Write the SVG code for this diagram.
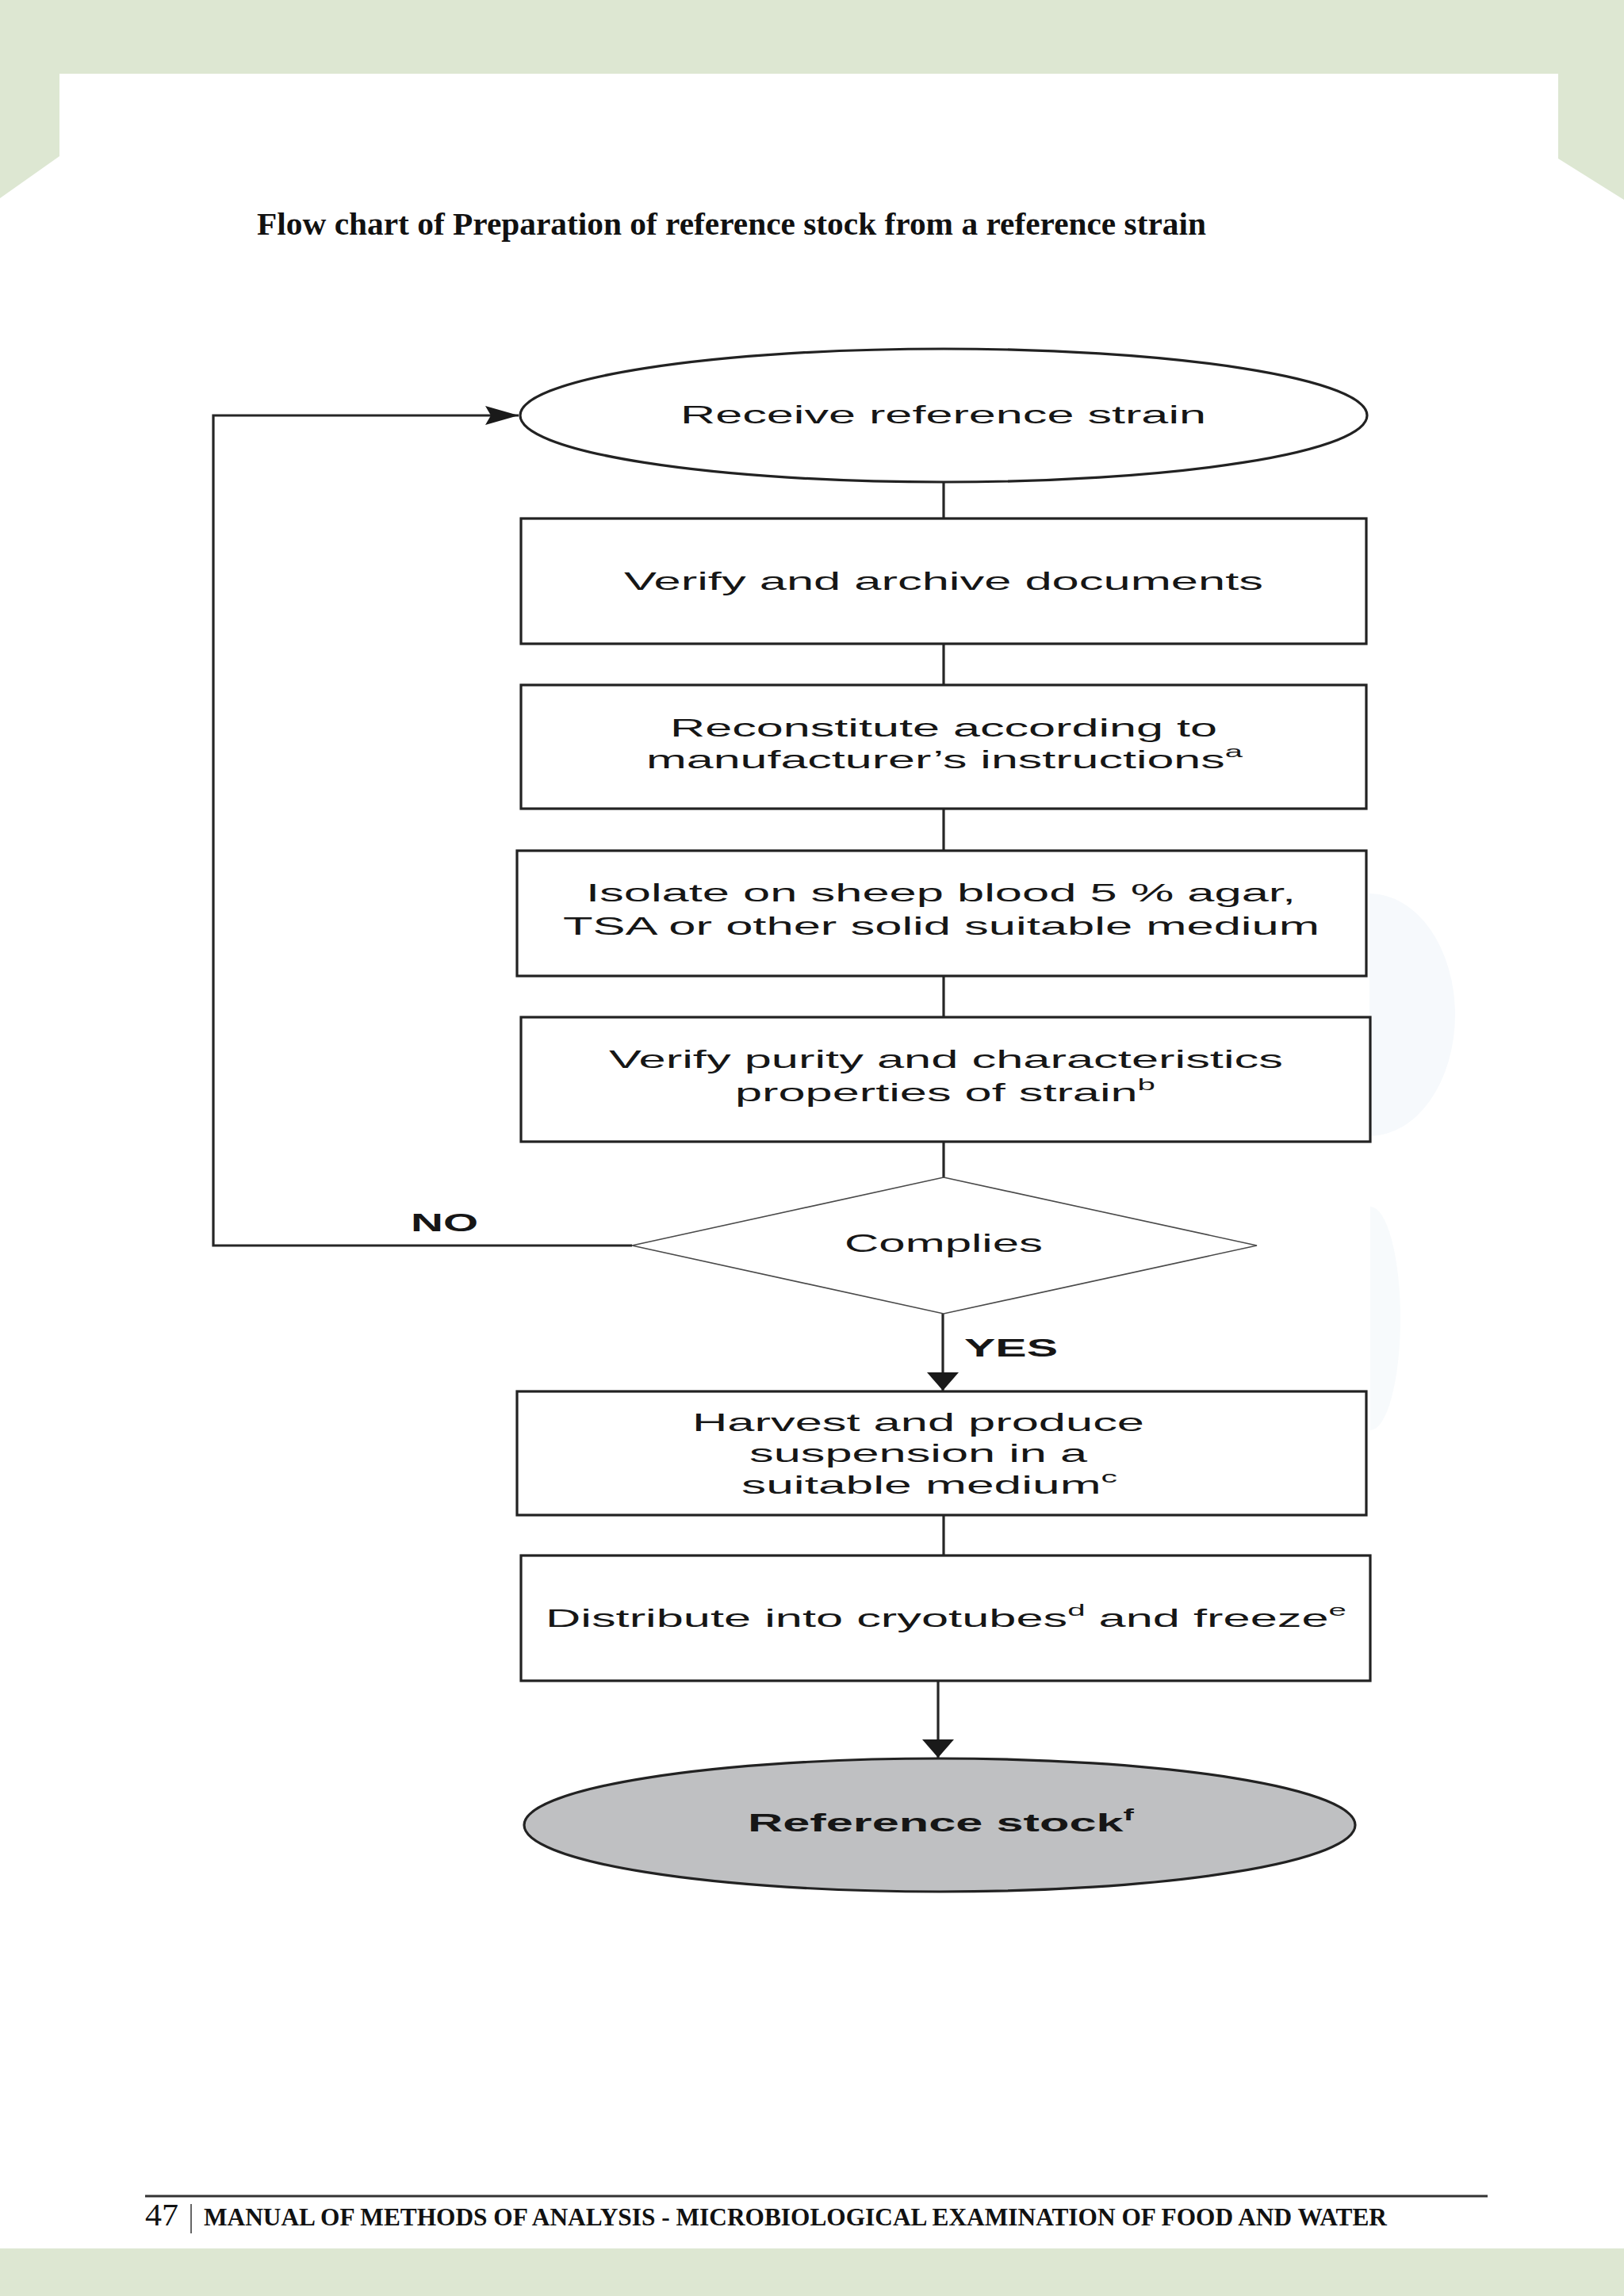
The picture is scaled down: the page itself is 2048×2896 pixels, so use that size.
<svg xmlns="http://www.w3.org/2000/svg" width="2048" height="2896" viewBox="0 0 2048 2896">
<style>
.bg{fill:#dde7d2}
.node rect,.node ellipse{stroke:#222;stroke-width:3.2}
.node rect{fill:#ffffff}
.diam{fill:#ffffff;stroke:#4a4a4a;stroke-width:1.6}
.conn{fill:none;stroke:#262626;stroke-width:3.2}
.t{font-family:"Liberation Sans",Arial,sans-serif;font-size:32px;fill:#161616}
.b{font-weight:bold}
.sup{font-size:21px}
.serif{font-family:"Liberation Serif","Times New Roman",serif;font-weight:bold;fill:#111}
</style>
<defs>
<marker id="arrR" markerUnits="userSpaceOnUse" viewBox="0 -12 42 24" markerWidth="42" markerHeight="24" refX="42" refY="0" orient="auto">
<path d="M0,-12 L42,0 L0,12 L7,0 Z" fill="#1a1a1a"/>
</marker>
<marker id="arrD" markerUnits="userSpaceOnUse" viewBox="0 -20 23 40" markerWidth="23" markerHeight="40" refX="23" refY="0" orient="auto">
<path d="M0,-20 L23,0 L0,20 Z" fill="#1a1a1a"/>
</marker>
</defs>
<rect width="2048" height="2896" fill="#ffffff"/>
<g id="page-frame">
<rect class="bg" x="0" y="0" width="2048" height="93"/>
<polygon class="bg" points="0,0 75,0 75,197 0,250"/>
<polygon class="bg" points="2048,0 1965,0 1965,200 2048,252"/>
<rect class="bg" x="0" y="2836" width="2048" height="60"/>
<path d="M1727,1127 A108,153 0 0 1 1727,1433 Z" fill="#f6f9fc"/>
<path d="M1728,1522 A38,141 0 0 1 1728,1804 Z" fill="#f7fafc"/>
</g>
<text class="serif" x="324" y="296" font-size="41" textLength="1197" lengthAdjust="spacingAndGlyphs">Flow chart of Preparation of reference stock from a reference strain</text>
<g id="connectors">
<path class="conn" d="M797,1571 H269 V524 H654" marker-end="url(#arrR)"/>
<line class="conn" x1="1190" y1="608" x2="1190" y2="654"/>
<line class="conn" x1="1190" y1="812" x2="1190" y2="864"/>
<line class="conn" x1="1190" y1="1020" x2="1190" y2="1073"/>
<line class="conn" x1="1190" y1="1231" x2="1190" y2="1283"/>
<line class="conn" x1="1190" y1="1440" x2="1190" y2="1485"/>
<line class="conn" x1="1189" y1="1657" x2="1189" y2="1754" marker-end="url(#arrD)"/>
<line class="conn" x1="1190" y1="1911" x2="1190" y2="1962"/>
<line class="conn" x1="1183" y1="2120" x2="1183" y2="2217" marker-end="url(#arrD)"/>
<text class="t b" x="518" y="1553" textLength="85" lengthAdjust="spacingAndGlyphs">NO</text>
<text class="t b" x="1216" y="1711" textLength="118" lengthAdjust="spacingAndGlyphs">YES</text>
</g>
<g id="n-receive" class="node">
<ellipse cx="1190" cy="524" rx="534" ry="84" fill="#ffffff"/>
<text class="t" x="858" y="534" textLength="663" lengthAdjust="spacingAndGlyphs">Receive reference strain</text>
</g>
<g id="n-verify-docs" class="node">
<rect x="657" y="654" width="1066" height="158"/>
<text class="t" x="787" y="744" textLength="806" lengthAdjust="spacingAndGlyphs">Verify and archive documents</text>
</g>
<g id="n-reconstitute" class="node">
<rect x="657" y="864" width="1066" height="156"/>
<text class="t" x="845" y="929" textLength="690" lengthAdjust="spacingAndGlyphs">Reconstitute according to</text>
<text class="t" x="815" y="969" textLength="752" lengthAdjust="spacingAndGlyphs">manufacturer’s instructions<tspan class="sup" dy="-14">a</tspan></text>
</g>
<g id="n-isolate" class="node">
<rect x="652" y="1073" width="1071" height="158"/>
<text class="t" x="739" y="1137" textLength="895" lengthAdjust="spacingAndGlyphs">Isolate on sheep blood 5 % agar,</text>
<text class="t" x="710" y="1179" textLength="954" lengthAdjust="spacingAndGlyphs">TSA or other solid suitable medium</text>
</g>
<g id="n-verify-purity" class="node">
<rect x="657" y="1283" width="1071" height="157"/>
<text class="t" x="768" y="1347" textLength="850" lengthAdjust="spacingAndGlyphs">Verify purity and characteristics</text>
<text class="t" x="927" y="1389" textLength="530" lengthAdjust="spacingAndGlyphs">properties of strain<tspan class="sup" dy="-14">b</tspan></text>
</g>
<g id="n-complies" class="node">
<polygon class="diam" points="1190,1485 1585,1571 1190,1657 797,1571"/>
<text class="t" x="1065" y="1579" textLength="250" lengthAdjust="spacingAndGlyphs">Complies</text>
</g>
<g id="n-harvest" class="node">
<rect x="652" y="1755" width="1071" height="156"/>
<text class="t" x="873" y="1805" textLength="570" lengthAdjust="spacingAndGlyphs">Harvest and produce</text>
<text class="t" x="945" y="1844" textLength="426" lengthAdjust="spacingAndGlyphs">suspension in a</text>
<text class="t" x="935" y="1884" textLength="474" lengthAdjust="spacingAndGlyphs">suitable medium<tspan class="sup" dy="-14">c</tspan></text>
</g>
<g id="n-distribute" class="node">
<rect x="657" y="1962" width="1071" height="158"/>
<text class="t" x="688" y="2052" textLength="1010" lengthAdjust="spacingAndGlyphs">Distribute into cryotubes<tspan class="sup" dy="-14">d</tspan><tspan dy="14"> and freeze</tspan><tspan class="sup" dy="-14">e</tspan></text>
</g>
<g id="n-stock" class="node">
<ellipse cx="1185" cy="2302" rx="524" ry="84" fill="#bfc0c2"/>
<text class="t b" x="943" y="2310" textLength="487" lengthAdjust="spacingAndGlyphs">Reference stock<tspan class="sup" dy="-14">f</tspan></text>
</g>
<g id="footer">
<line x1="183" y1="2770" x2="1876" y2="2770" stroke="#333" stroke-width="3"/>
<line x1="241" y1="2780" x2="241" y2="2817" stroke="#333" stroke-width="1.5"/>
<text x="183" y="2807" font-family="Liberation Serif,'Times New Roman',serif" font-size="40" fill="#111" textLength="42" lengthAdjust="spacingAndGlyphs">47</text>
<text class="serif" x="257" y="2807" font-size="31" textLength="1492" lengthAdjust="spacingAndGlyphs">MANUAL OF METHODS OF ANALYSIS - MICROBIOLOGICAL EXAMINATION OF FOOD AND WATER</text>
</g>
</svg>
